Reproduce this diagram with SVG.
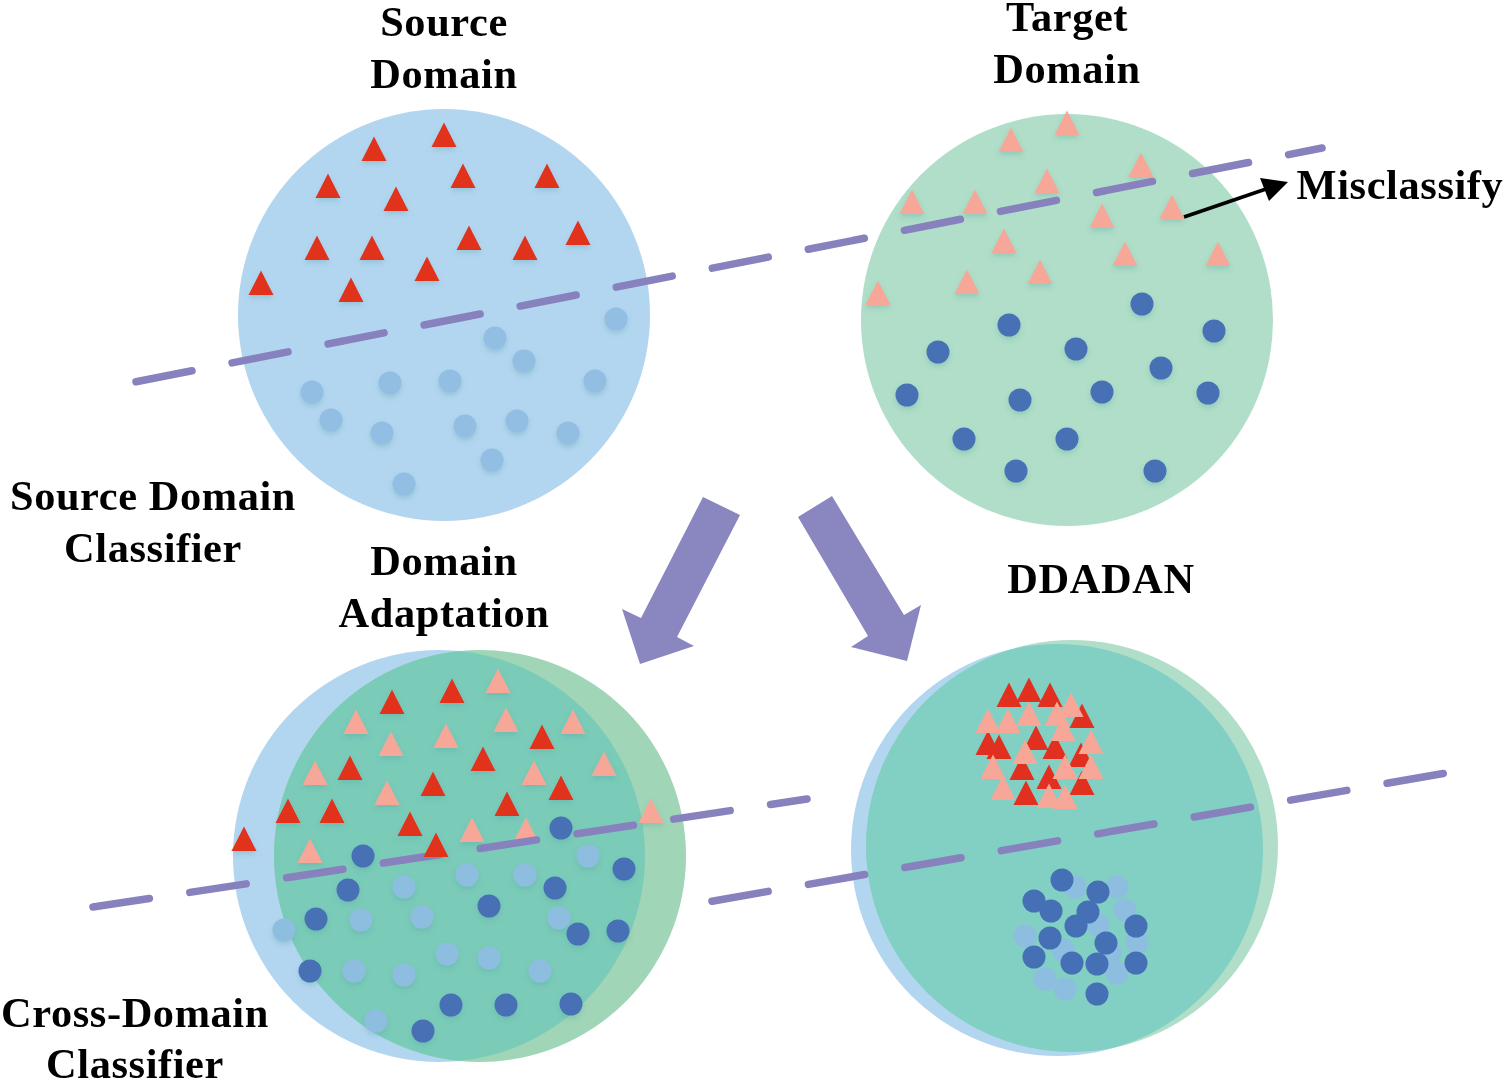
<svg xmlns="http://www.w3.org/2000/svg" xmlns:xlink="http://www.w3.org/1999/xlink" width="1505" height="1082" viewBox="0 0 1505 1082">
<style>
text{font-family:"Liberation Serif","Times New Roman",serif;font-weight:bold;font-size:42.4px;fill:#000;text-anchor:middle;letter-spacing:.6px}
.dash{fill:none;stroke:#8781BE;stroke-width:7.5;stroke-linecap:round;stroke-dasharray:57 40.9}
.blue{fill:#B3D6F0}.green{fill:#B0DEC8}
.r{fill:#E1301F}.p{fill:#F6A797}.d{fill:#4670B5}.l{fill:#93BEE3}.l2{fill:#8DBEE0}
.big{fill:#8A86C0}
.sh{filter:url(#soft)}
</style>
<defs>
<filter id="soft" x="-5%" y="-5%" width="110%" height="115%"><feDropShadow dx="0" dy="3" stdDeviation="2.5" flood-color="#4f9f9f" flood-opacity=".3"/></filter>
<path id="t" d="M0,-12.5 L12.5,12 L-12.5,12 Z"/>
<circle id="c" r="11.5"/>
<clipPath id="blClip"><circle cx="439" cy="856" r="206"/></clipPath>
<clipPath id="brClip"><circle cx="1057" cy="850" r="206"/></clipPath>
</defs>

<g id="source-domain">
<circle class="blue" cx="444" cy="315" r="206"/>
<g class="l sh"><use href="#c" x="616" y="319"/><use href="#c" x="495" y="338"/><use href="#c" x="524" y="361"/><use href="#c" x="312" y="392"/><use href="#c" x="390" y="383"/><use href="#c" x="450" y="381"/><use href="#c" x="595" y="381"/><use href="#c" x="331" y="420"/><use href="#c" x="382" y="433"/><use href="#c" x="465" y="426"/><use href="#c" x="517" y="421"/><use href="#c" x="568" y="433"/><use href="#c" x="492" y="460"/><use href="#c" x="404" y="484"/></g>
<g class="r sh"><use href="#t" x="374" y="149"/><use href="#t" x="444" y="135"/><use href="#t" x="328" y="186"/><use href="#t" x="463" y="176"/><use href="#t" x="547" y="176"/><use href="#t" x="396" y="199"/><use href="#t" x="317" y="248"/><use href="#t" x="372" y="248"/><use href="#t" x="469" y="238"/><use href="#t" x="525" y="248"/><use href="#t" x="578" y="233"/><use href="#t" x="261" y="283"/><use href="#t" x="351" y="290"/><use href="#t" x="427" y="269"/></g>
</g>

<g id="target-domain">
<circle class="green" cx="1067" cy="320" r="206"/>
<g class="p sh"><use href="#t" x="1011" y="140"/><use href="#t" x="1067" y="123"/><use href="#t" x="1141" y="165"/><use href="#t" x="1047" y="181"/><use href="#t" x="912" y="202"/><use href="#t" x="975" y="202"/><use href="#t" x="1102" y="216"/><use href="#t" x="1172" y="207"/><use href="#t" x="1004" y="241"/><use href="#t" x="1125" y="254"/><use href="#t" x="1218" y="254"/><use href="#t" x="1040" y="272"/><use href="#t" x="967" y="282"/><use href="#t" x="878" y="293"/></g>
<g class="d sh"><use href="#c" x="1142" y="304"/><use href="#c" x="1009" y="325"/><use href="#c" x="1214" y="331"/><use href="#c" x="938" y="352"/><use href="#c" x="1076" y="349"/><use href="#c" x="1161" y="368"/><use href="#c" x="907" y="395"/><use href="#c" x="1020" y="400"/><use href="#c" x="1102" y="392"/><use href="#c" x="1208" y="393"/><use href="#c" x="964" y="439"/><use href="#c" x="1067" y="439"/><use href="#c" x="1016" y="471"/><use href="#c" x="1155" y="471"/></g>
</g>

<g id="domain-adaptation-discs">
<circle class="blue" cx="439" cy="856" r="206"/>
<circle fill="#A0D5B7" cx="480" cy="856" r="206"/>
<circle fill="#7BCBB9" cx="480" cy="856" r="206" clip-path="url(#blClip)"/>
<use href="#t" class="p" x="526" y="830"/>
</g>

<g id="ddadan-discs">
<circle class="blue" cx="1057" cy="850" r="206"/>
<circle class="green" cx="1072" cy="846" r="206"/>
<circle fill="#82CFC3" cx="1072" cy="846" r="206" clip-path="url(#brClip)"/>
</g>

<g id="connectors">
<line class="dash" x1="136" y1="381.8" x2="1322" y2="148"/>
<line class="dash" x1="93" y1="907" x2="807" y2="799"/>
<line class="dash" x1="712" y1="901.2" x2="1446" y2="773"/>
<polygon class="big" points="703,497 740,515 677,637 694,646 640,664 622,609 641,618"/>
<polygon class="big" points="798,517 832,496 904,615 921,605 907,661 851,647 868,636"/>
<line x1="1184" y1="217" x2="1266" y2="189" stroke="#000" stroke-width="3.5"/>
<polygon fill="#000" points="1288,182 1269,201 1260,178"/>
</g>

<g id="domain-adaptation-markers">
<g class="l2 sh"><use href="#c" x="588" y="856"/><use href="#c" x="467" y="875"/><use href="#c" x="525" y="875"/><use href="#c" x="404" y="887"/><use href="#c" x="361" y="920"/><use href="#c" x="422" y="917"/><use href="#c" x="559" y="918"/><use href="#c" x="284" y="930"/><use href="#c" x="447" y="954"/><use href="#c" x="489" y="958"/><use href="#c" x="540" y="971"/><use href="#c" x="354" y="971"/><use href="#c" x="404" y="975"/><use href="#c" x="376" y="1021"/></g>
<g class="d sh"><use href="#c" x="561" y="828"/><use href="#c" x="363" y="856"/><use href="#c" x="348" y="890"/><use href="#c" x="624" y="869"/><use href="#c" x="555" y="888"/><use href="#c" x="489" y="906"/><use href="#c" x="316" y="919"/><use href="#c" x="578" y="934"/><use href="#c" x="618" y="931"/><use href="#c" x="310" y="971"/><use href="#c" x="451" y="1005"/><use href="#c" x="506" y="1005"/><use href="#c" x="571" y="1004"/><use href="#c" x="423" y="1031"/></g>
<g class="r sh"><use href="#t" x="392" y="702"/><use href="#t" x="452" y="691"/><use href="#t" x="542" y="737"/><use href="#t" x="350" y="768"/><use href="#t" x="483" y="759"/><use href="#t" x="433" y="784"/><use href="#t" x="561" y="788"/><use href="#t" x="288" y="811"/><use href="#t" x="332" y="811"/><use href="#t" x="507" y="804"/><use href="#t" x="410" y="824"/><use href="#t" x="436" y="845"/><use href="#t" x="244" y="839"/></g>
<g class="p sh"><use href="#t" x="498" y="681"/><use href="#t" x="356" y="722"/><use href="#t" x="506" y="720"/><use href="#t" x="573" y="722"/><use href="#t" x="391" y="744"/><use href="#t" x="446" y="736"/><use href="#t" x="604" y="764"/><use href="#t" x="315" y="773"/><use href="#t" x="534" y="773"/><use href="#t" x="387" y="793"/><use href="#t" x="472" y="830"/><use href="#t" x="651" y="811"/><use href="#t" x="310" y="851"/></g>
</g>

<g id="ddadan-markers">
<g class="l2"><use href="#c" x="1075" y="887"/><use href="#c" x="1117" y="887"/><use href="#c" x="1125" y="910"/><use href="#c" x="1098" y="925"/><use href="#c" x="1025" y="936"/><use href="#c" x="1137" y="943"/><use href="#c" x="1110" y="953"/><use href="#c" x="1117" y="973"/><use href="#c" x="1045" y="979"/><use href="#c" x="1065" y="989"/><use href="#c" x="1063" y="950"/></g>
<g class="d"><use href="#c" x="1062" y="880"/><use href="#c" x="1034" y="901"/><use href="#c" x="1051" y="911"/><use href="#c" x="1098" y="892"/><use href="#c" x="1088" y="912"/><use href="#c" x="1076" y="926"/><use href="#c" x="1136" y="926"/><use href="#c" x="1050" y="938"/><use href="#c" x="1106" y="943"/><use href="#c" x="1034" y="957"/><use href="#c" x="1072" y="963"/><use href="#c" x="1097" y="964"/><use href="#c" x="1136" y="963"/><use href="#c" x="1097" y="994"/></g>
<g class="r"><use href="#t" x="1009" y="695"/><use href="#t" x="1029" y="690"/><use href="#t" x="1050" y="695"/><use href="#t" x="1082" y="716"/><use href="#t" x="988" y="743"/><use href="#t" x="999" y="747"/><use href="#t" x="1036" y="738"/><use href="#t" x="1055" y="747"/><use href="#t" x="1081" y="755"/><use href="#t" x="1022" y="768"/><use href="#t" x="1049" y="777"/><use href="#t" x="1082" y="783"/><use href="#t" x="1026" y="793"/></g>
<g class="p"><use href="#t" x="1071" y="705"/><use href="#t" x="988" y="721"/><use href="#t" x="1008" y="721"/><use href="#t" x="1029" y="714"/><use href="#t" x="1057" y="714"/><use href="#t" x="1063" y="729"/><use href="#t" x="1091" y="742"/><use href="#t" x="1025" y="752"/><use href="#t" x="993" y="767"/><use href="#t" x="1065" y="767"/><use href="#t" x="1091" y="767"/><use href="#t" x="1003" y="788"/><use href="#t" x="1049" y="796"/><use href="#t" x="1065" y="797"/></g>
</g>

<g id="labels">
<text x="444" y="36">Source</text><text x="444" y="88">Domain</text>
<text x="1067" y="31">Target</text><text x="1067" y="83">Domain</text>
<text x="1400" y="199">Misclassify</text>
<text x="153" y="510">Source Domain</text><text x="153" y="562">Classifier</text>
<text x="444" y="575">Domain</text><text x="444" y="627">Adaptation</text>
<text x="1101" y="593">DDADAN</text>
<text x="135" y="1027">Cross-Domain</text><text x="135" y="1078">Classifier</text>
</g>
</svg>
